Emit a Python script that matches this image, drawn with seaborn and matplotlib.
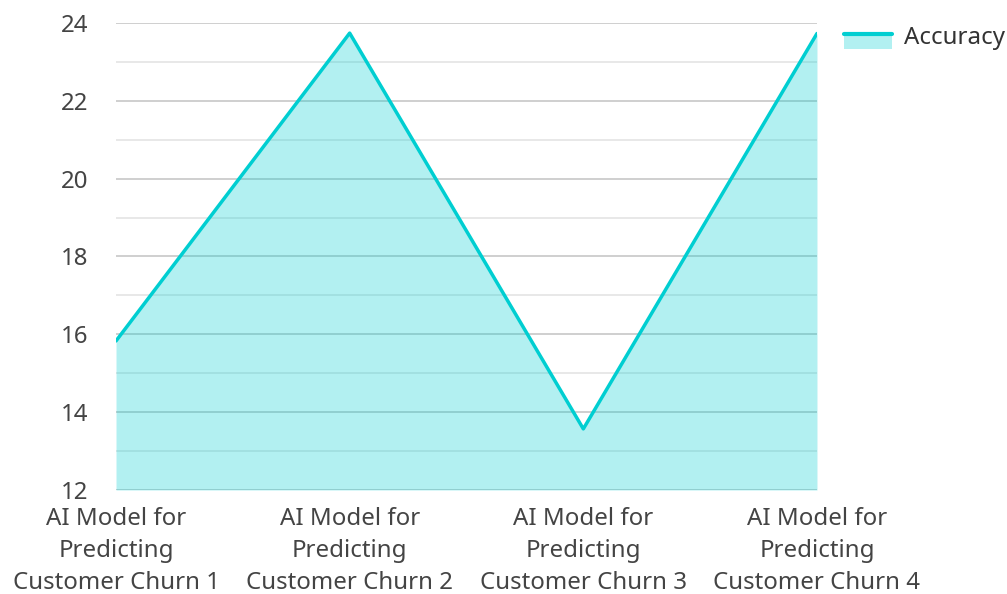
import matplotlib
matplotlib.use("Agg")
import matplotlib.pyplot as plt
import numpy as np
import pandas as pd
import seaborn as sns
from matplotlib.legend_handler import HandlerBase
from matplotlib.patches import Rectangle
from matplotlib.lines import Line2D

categories = [
    "AI Model for\nPredicting\nCustomer Churn 1",
    "AI Model for\nPredicting\nCustomer Churn 2",
    "AI Model for\nPredicting\nCustomer Churn 3",
    "AI Model for\nPredicting\nCustomer Churn 4",
]
accuracy = [15.83, 23.74, 13.57, 23.73]
y_ticks = [12, 14, 16, 18, 20, 22, 24]

LINE = "#00CED1"
TEXT = "#444444"
FS = 17.3

sns.set_theme(style="white")
plt.rcParams["font.family"] = ["Noto Sans", "DejaVu Sans"]

df = pd.DataFrame({"pos": np.arange(len(categories)), "Accuracy": accuracy})

fig = plt.figure(figsize=(10.07, 5.94), dpi=100)
ax = fig.add_axes([0.1152, 0.1751, 0.8113 - 0.1152, 0.9613 - 0.1751])

# grid lines first so the translucent fill tints them
for v in np.arange(12, 24.5, 1):
    major = v % 2 == 0
    ax.axhline(v, color="#cccccc" if major else "#e6e6e6", lw=1.3, zorder=0)

ax.fill_between(df["pos"], accuracy, 12, color=LINE, alpha=0.3, lw=0, zorder=1)
sns.lineplot(data=df, x="pos", y="Accuracy", color=LINE, lw=2.5, ax=ax, zorder=3)

ax.set_xlim(0, len(categories) - 1)
ax.set_ylim(12, 24)
ax.set_xticks(df["pos"])
ax.set_xticklabels(categories, fontsize=FS, color=TEXT, linespacing=1.45)
ax.set_yticks(y_ticks)
ax.set_yticklabels([str(t) for t in y_ticks], fontsize=FS, color=TEXT)
ax.tick_params(axis="y", length=0, pad=20)
ax.tick_params(axis="x", length=0, pad=12)
ax.set_xlabel("")
ax.set_ylabel("")
for s in ax.spines.values():
    s.set_visible(False)


class AreaHandler(HandlerBase):
    def create_artists(self, legend, orig, xd, yd, w, h, fontsize, trans):
        top = yd + h * 0.6
        rect = Rectangle((xd, yd - h * 0.25), w, top - (yd - h * 0.25),
                         facecolor=LINE, alpha=0.3, lw=0, transform=trans)
        line = Line2D([xd, xd + w], [top, top], color=LINE, lw=3,
                      transform=trans)
        return [rect, line]


handle = Line2D([], [], color=LINE)
fig.legend([handle], ["Accuracy"], handler_map={Line2D: AreaHandler()},
           loc="upper left", bbox_to_anchor=(0.821, 0.984), frameon=False,
           fontsize=FS, handlelength=2.0, handleheight=0.7, handletextpad=0.5,
           labelcolor="#333333", borderpad=0.2)

fig.savefig("out.png", dpi=100)
